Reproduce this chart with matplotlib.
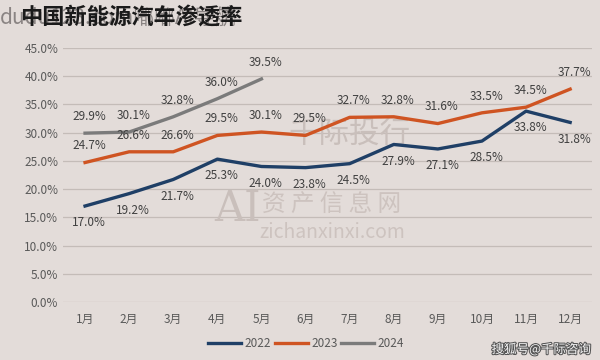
import matplotlib.pyplot as plt
import matplotlib.patheffects as pe
import numpy as np

plt.rcParams['font.family'] = ['Noto Sans CJK SC', 'DejaVu Sans']

months = ['1月', '2月', '3月', '4月', '5月', '6月', '7月', '8月', '9月', '10月', '11月', '12月']
y2022 = [17.0, 19.2, 21.7, 25.3, 24.0, 23.8, 24.5, 27.9, 27.1, 28.5, 33.8, 31.8]
y2023 = [24.7, 26.6, 26.6, 29.5, 30.1, 29.5, 32.7, 32.8, 31.6, 33.5, 34.5, 37.7]
y2024 = [29.9, 30.1, 32.8, 36.0, 39.5]

bg = '#e3dcd9'
fig = plt.figure(figsize=(6, 3.6), dpi=100, facecolor=bg)
ax = fig.add_axes([0.105, 0.161, 0.882, 0.706], facecolor=bg)

x = np.arange(len(months))
series = [
    (y2022, '2022', '#1f3f66', -1),
    (y2023, '2023', '#cf5422', 1),
    (y2024, '2024', '#7b7b7b', 1),
]
for vals, name, col, side in series:
    xs = x[:len(vals)]
    ax.plot(xs, vals, color=col, linewidth=2.4, label=name, zorder=3)
    for xi, v in zip(xs, vals):
        ax.annotate(f'{v:.1f}%', (xi, v), xytext=(3, 12 * side), textcoords='offset points',
                    ha='center', va='center', fontsize=8.5, color='#404040', zorder=4)

# faint watermarks
ax.text(6.0, 29.6, '千际投行', fontsize=22, color='#c9bfbb', ha='center', va='center', zorder=1)
ax.text(3.45, 16.5, 'AI', fontsize=30, color='#c9bfbb', ha='center', va='center', family='DejaVu Serif', zorder=1)
ax.text(5.6, 17.2, '资 产 信 息 网', fontsize=17, color='#cdc3bf', ha='center', va='center', zorder=1)
ax.text(5.6, 12.3, 'zichanxinxi.com', fontsize=14, color='#cdc3bf', ha='center', va='center', zorder=1)

ax.set_xlim(-0.5, 11.5)
ax.set_ylim(0, 45)
ax.set_yticks(np.arange(0, 46, 5))
ax.set_yticklabels([f'{t:.1f}%' for t in np.arange(0, 46, 5)])
ax.set_xticks(x)
ax.set_xticklabels(months)
ax.grid(axis='y', color='#c4bcb8', linewidth=0.9)
ax.set_axisbelow(True)
for s in ax.spines.values():
    s.set_visible(False)
ax.tick_params(length=0, colors='#595959', labelsize=8.5)
ax.tick_params(axis='x', pad=8)

fig.legend(loc='center', bbox_to_anchor=(0.51, 0.045), ncol=3, frameon=False, fontsize=8.5,
           handlelength=2.8, columnspacing=0.3, handletextpad=0.3, labelcolor='#595959')

# overlay watermark behind the title
fig.text(0.0, 0.948, 'dudu123.com嘟嘟AI导航', fontsize=15, color='#8a8483', va='center')
fig.text(0.033, 0.95, '中国新能源汽车渗透率', fontsize=16, fontweight='bold', color='#1a1a1a', va='center')
fig.text(0.985, 0.03, '搜狐号@千际咨询', fontsize=9, color='#f5f5f5', ha='right', va='center',
         path_effects=[pe.withStroke(linewidth=1.5, foreground='#555555')])

plt.savefig('out.png', dpi=100, facecolor=bg)
